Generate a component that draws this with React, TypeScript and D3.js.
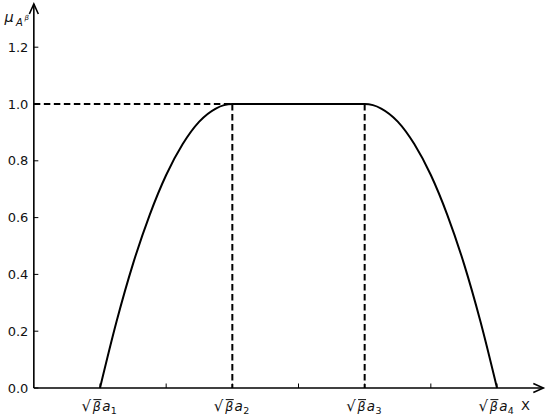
import React from 'react';
import { scaleLinear, line, curveMonotoneX } from 'd3';

// membership curve (x in units of sqrt(beta)*a)
const curveX = [1, 1.125, 1.25, 1.375, 1.5, 1.625, 1.75, 1.875, 1.9375, 2, 3, 3.0625, 3.125, 3.25, 3.375, 3.5, 3.625, 3.75, 3.875, 4];
const curveY = [0, 0.234, 0.438, 0.609, 0.75, 0.859, 0.938, 0.984, 0.996, 1, 1, 0.996, 0.984, 0.938, 0.859, 0.75, 0.609, 0.438, 0.234, 0];

const xTickMajor = [1, 2, 3, 4];
const xTickSubs = ['1', '2', '3', '4'];
const xTickMinor = [1.5, 2.5, 3.5];
const yTicks = [0, 0.2, 0.4, 0.6, 0.8, 1.0, 1.2];

const xStart = 0.5;
const xEnd = 4.35;
const yEnd = 1.352;

const W = 550;
const H = 420;
const font = '"DejaVu Sans", sans-serif';

const App = () => {
  const x = scaleLinear().domain([1, 4]).range([100, 497]);
  const y = scaleLinear().domain([0, 1]).range([388, 104]);

  const pts = curveX.map((v, i) => [v, curveY[i]] as [number, number]);
  const path = line<[number, number]>()
    .x(d => x(d[0]))
    .y(d => y(d[1]))
    .curve(curveMonotoneX)(pts);

  const x0 = x(xStart);
  const y0 = y(0);
  const xR = x(xEnd);
  const yT = y(yEnd);

  return (
    <svg width={W} height={H} style={{ position: 'fixed', left: 0, top: 0, background: '#fff' }} fontFamily={font}>
      {/* dashed guides */}
      <g stroke="#000" strokeWidth={2} strokeDasharray="6.5,3.5" fill="none">
        <line x1={x0} x2={x(2)} y1={y(1)} y2={y(1)} />
        <line x1={x(2)} x2={x(2)} y1={y(1)} y2={y0} />
        <line x1={x(3)} x2={x(3)} y1={y(1)} y2={y0} />
      </g>

      <path d={path || ''} fill="none" stroke="#000" strokeWidth={2} />

      {/* axes with open arrows */}
      <g stroke="#000" strokeWidth={1.6} fill="none">
        <line x1={x0} x2={xR} y1={y0} y2={y0} />
        <line x1={x0} x2={x0} y1={y0} y2={yT} />
        <polyline points={`${xR - 10},${y0 - 4.5} ${xR},${y0} ${xR - 10},${y0 + 4.5}`} />
        <polyline points={`${x0 - 4.5},${yT + 10} ${x0},${yT} ${x0 + 4.5},${yT + 10}`} />
      </g>

      {/* y ticks */}
      {yTicks.map(t => (
        <g key={t}>
          <line x1={x0} x2={x0 + 4.5} y1={y(t)} y2={y(t)} stroke="#000" strokeWidth={1} />
          <text x={x0 - 5.5} y={y(t)} dy="0.36em" textAnchor="end" fontSize={13} fill="#111">
            {t.toFixed(1)}
          </text>
        </g>
      ))}

      {/* x ticks */}
      {xTickMinor.concat(xTickMajor).map(t => (
        <line key={t} x1={x(t)} x2={x(t)} y1={y0} y2={y0 - 4.5} stroke="#000" strokeWidth={1} />
      ))}
      {xTickMajor.map((t, i) => {
        const c = x(t);
        return (
          <g key={t} fill="#111" fontSize={13}>
            <text x={c - 18.5} y={411} fontSize={15}>√</text>
            <line x1={c - 6.6} x2={c + 1.4} y1={399.6} y2={399.6} stroke="#111" strokeWidth={1} />
            <text x={c - 7.2} y={410.5} fontSize={12.5} fontStyle="italic">β</text>
            <text x={c + 2.2} y={410.5} fontSize={13.5} fontStyle="italic">a</text>
            <text x={c + 10.8} y={413.5} fontSize={9.5}>{xTickSubs[i]}</text>
          </g>
        );
      })}

      {/* axis labels */}
      <text x={521} y={410} fontSize={13} fill="#111">X</text>
      <g fill="#111">
        <text x={4.5} y={22} fontSize={14.5} fontStyle="italic">μ</text>
        <text x={16} y={25.5} fontSize={10} fontStyle="italic">A</text>
        <text x={24.5} y={19.5} fontSize={7} fontStyle="italic">β</text>
      </g>
    </svg>
  );
};

export default App;
